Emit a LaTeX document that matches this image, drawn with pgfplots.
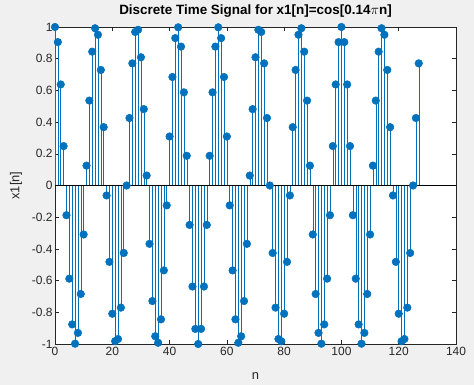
\documentclass[border=0pt]{standalone}
\usepackage{pgfplots}
\pgfplotsset{compat=1.18}
\usepackage{pgfplotstable}
\usepackage{fontspec}
\setmainfont{Liberation Sans}
\definecolor{mblue}{RGB}{0,114,189}
\definecolor{figbg}{RGB}{240,240,240}
\definecolor{axc}{RGB}{38,38,38}
\pgfplotstableread{
n v
0 1
1 0.9048
2 0.6374
3 0.2487
4 -0.1874
5 -0.5878
6 -0.8763
7 -0.9980
8 -0.9298
9 -0.6845
10 -0.3090
11 0.1253
12 0.5358
13 0.8443
14 0.9921
15 0.9511
16 0.7290
17 0.3681
18 -0.0628
19 -0.4818
20 -0.8090
21 -0.9823
22 -0.9686
23 -0.7705
24 -0.4258
25 0
26 0.4258
27 0.7705
28 0.9686
29 0.9823
30 0.8090
31 0.4818
32 0.0628
33 -0.3681
34 -0.7290
35 -0.9511
36 -0.9921
37 -0.8443
38 -0.5358
39 -0.1253
40 0.3090
41 0.6845
42 0.9298
43 0.9980
44 0.8763
45 0.5878
46 0.1874
47 -0.2487
48 -0.6374
49 -0.9048
50 -1
51 -0.9048
52 -0.6374
53 -0.2487
54 0.1874
55 0.5878
56 0.8763
57 0.9980
58 0.9298
59 0.6845
60 0.3090
61 -0.1253
62 -0.5358
63 -0.8443
64 -0.9921
65 -0.9511
66 -0.7290
67 -0.3681
68 0.0628
69 0.4818
70 0.8090
71 0.9823
72 0.9686
73 0.7705
74 0.4258
75 0
76 -0.4258
77 -0.7705
78 -0.9686
79 -0.9823
80 -0.8090
81 -0.4818
82 -0.0628
83 0.3681
84 0.7290
85 0.9511
86 0.9921
87 0.8443
88 0.5358
89 0.1253
90 -0.3090
91 -0.6845
92 -0.9298
93 -0.9980
94 -0.8763
95 -0.5878
96 -0.1874
97 0.2487
98 0.6374
99 0.9048
100 1
101 0.9048
102 0.6374
103 0.2487
104 -0.1874
105 -0.5878
106 -0.8763
107 -0.9980
108 -0.9298
109 -0.6845
110 -0.3090
111 0.1253
112 0.5358
113 0.8443
114 0.9921
115 0.9511
116 0.7290
117 0.3681
118 -0.0628
119 -0.4818
120 -0.8090
121 -0.9823
122 -0.9686
123 -0.7705
124 -0.4258
125 0
126 0.4258
127 0.7705
}\data
\begin{document}
\begin{tikzpicture}
\fill[figbg] (0bp,0bp) rectangle (474bp,385bp);
\begin{axis}[
  at={(55bp,41bp)}, anchor=south west,
  scale only axis, width=401bp, height=317bp,
  xmin=0, xmax=140, ymin=-1, ymax=1,
  clip=false,
  axis background/.style={fill=white},
  xtick={0,20,40,60,80,100,120,140},
  ytick={-1,-0.8,-0.6,-0.4,-0.2,0,0.2,0.4,0.6,0.8,1},
  yticklabels={-1,-0.8,-0.6,-0.4,-0.2,0,0.2,0.4,0.6,0.8,1},
  /pgf/number format/assume math mode=true,
  axis line style={axc, line width=0.5bp},
  tick style={axc, line width=0.5bp},
  major tick length=4bp,
  tick label style={font=\fontsize{12}{14}\selectfont, text=axc},
  yticklabel style={xshift=1bp},
  title={\bfseries Discrete Time Signal for x1[n]=cos[0.14$\pi$n]},
  title style={font=\fontsize{13.5}{16}\selectfont, at={(axis description cs:0.5,1)}, anchor=base, yshift=7bp},
  xlabel={n},
  ylabel={x1[n]},
  xlabel style={font=\fontsize{13}{15}\selectfont, text=axc, at={(axis description cs:0.5,-0.101)}, anchor=center},
  ylabel style={font=\fontsize{13}{15}\selectfont, text=axc, at={(axis description cs:-0.097,0.5)}, anchor=center},
]
\addplot[mblue, line width=0.5bp, ycomb, mark=*, mark size=3.8bp, mark options={fill=mblue, draw=mblue}] table[x=n, y=v] {\data};
\addplot[black, line width=0.5bp, mark=none] coordinates {(0,0) (140,0)};
\end{axis}
\end{tikzpicture}
\end{document}
